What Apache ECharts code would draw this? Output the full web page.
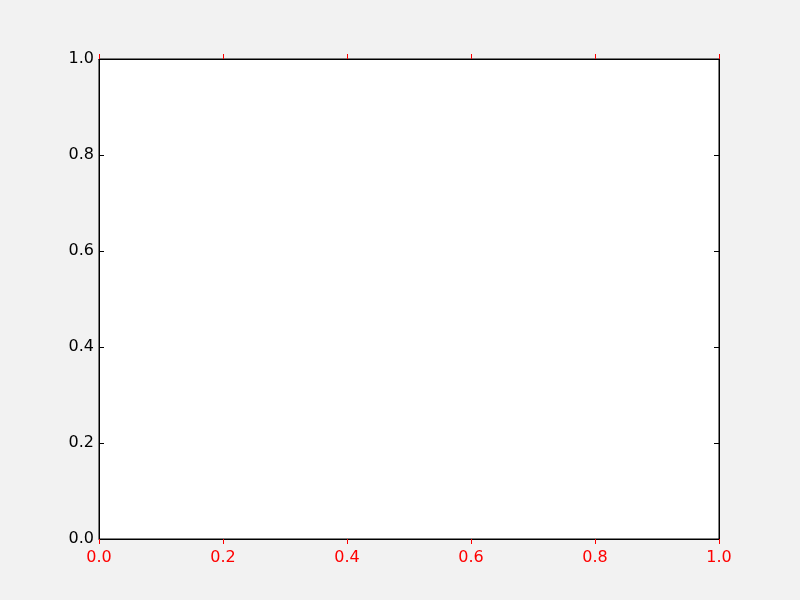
<!DOCTYPE html>
<html>
<head>
<meta charset="utf-8">
<script src="https://cdn.jsdelivr.net/npm/echarts@6/dist/echarts.min.js"></script>
<style>
    html, body { margin: 0; padding: 0; background: #f2f2f2; }
    #chart { width: 800px; height: 600px; }
</style>
</head>
<body>
<div id="chart"></div>
<script>
// tick values for both axes (the plot itself is empty)
var xTicks = [0.0, 0.2, 0.4, 0.6, 0.8, 1.0];
var yTicks = [0.0, 0.2, 0.4, 0.6, 0.8, 1.0];
var seriesData = [];

function makeX(pos, showLabel) {
    return {
        type: 'value',
        position: pos,
        min: xTicks[0],
        max: xTicks[xTicks.length - 1],
        interval: xTicks[1] - xTicks[0],
        axisLine: { show: true, onZero: false, lineStyle: { color: '#000', width: 1 } },
        axisTick: { show: true, inside: false, length: 5, lineStyle: { color: '#ff0000', width: 1 } },
        axisLabel: {
            show: showLabel,
            margin: 11,
            color: '#ff0000',
            fontSize: 16,
            fontFamily: 'DejaVu Sans',
            formatter: function (v) { return v.toFixed(1); }
        },
        splitLine: { show: false }
    };
}

function makeY(pos, showLabel) {
    return {
        type: 'value',
        position: pos,
        min: yTicks[0],
        max: yTicks[yTicks.length - 1],
        interval: yTicks[1] - yTicks[0],
        axisLine: { show: true, onZero: false, lineStyle: { color: '#000', width: 1 } },
        axisTick: { show: true, inside: true, length: 5, lineStyle: { color: '#000', width: 1 } },
        axisLabel: {
            show: showLabel,
            margin: 5,
            color: '#000',
            fontSize: 16,
            fontFamily: 'DejaVu Sans',
            formatter: function (v) { return v.toFixed(1); }
        },
        splitLine: { show: false }
    };
}

var myChart = echarts.init(document.getElementById('chart'));
var option = {
    backgroundColor: '#f2f2f2',
    animation: false,
    grid: {
        left: 99,
        top: 59,
        width: 620,
        height: 480,
        show: true,
        backgroundColor: '#ffffff',
        borderColor: '#000',
        borderWidth: 1
    },
    xAxis: [makeX('bottom', true), makeX('top', false)],
    yAxis: [makeY('left', true), makeY('right', false)],
    series: [{
        type: 'line',
        data: seriesData
    }]
};
myChart.setOption(option);
</script>
</body>
</html>
